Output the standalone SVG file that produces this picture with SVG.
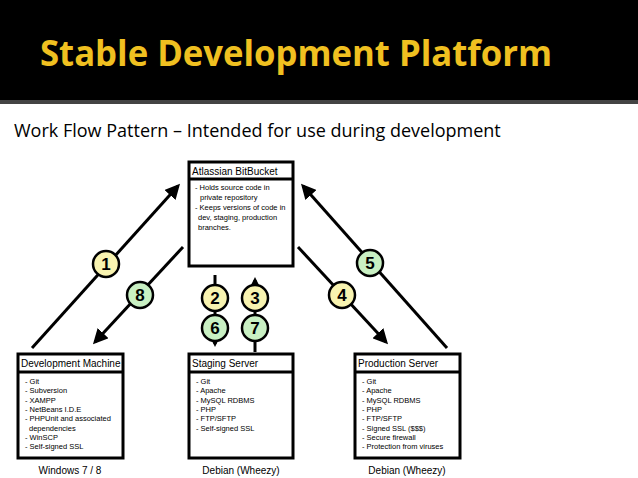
<svg xmlns="http://www.w3.org/2000/svg" width="638" height="478" viewBox="0 0 638 478">
<style>
.box{fill:#fff;stroke:#000;stroke-width:3}
.hd{font:10px "Liberation Sans",sans-serif;fill:#000}
.it{font:7.5px "Liberation Sans",sans-serif;fill:#000}
.os{font:10px "Liberation Sans",sans-serif;fill:#000;text-anchor:middle}
.ln{stroke:#000;stroke-width:3;fill:none}
.y{fill:#f8f3b0;stroke:#000;stroke-width:2.5}
.g{fill:#c9f0c3;stroke:#000;stroke-width:2.5}
.n{font:bold 17px "Liberation Sans",sans-serif;text-anchor:middle;fill:#000}
</style>
<defs><marker id="a" markerWidth="5" markerHeight="5" refX="4" refY="2.5" orient="auto" markerUnits="strokeWidth"><path d="M0,0L5,2.5L0,5z"/></marker></defs>
<rect width="638" height="478" fill="#fff"/>
<rect width="638" height="100" fill="#000"/>
<rect y="100" width="638" height="4" fill="#444"/>
<text x="296" y="66" text-anchor="middle" style="font:bold 35px 'Open Sans',sans-serif;fill:#f0c020" textLength="512" lengthAdjust="spacingAndGlyphs">Stable Development Platform</text>
<text x="14" y="137" style="font:18px 'Open Sans',sans-serif;fill:#000">Work Flow Pattern – Intended for use during development</text>
<g id="connectors">
<line class="ln" x1="32" y1="348" x2="178" y2="186" marker-end="url(#a)"/>
<line class="ln" x1="183" y1="247" x2="95" y2="342" marker-end="url(#a)"/>
<line class="ln" x1="215" y1="275" x2="215" y2="344" marker-end="url(#a)"/>
<line class="ln" x1="255" y1="352" x2="255" y2="280" marker-end="url(#a)"/>
<line class="ln" x1="298" y1="247" x2="386" y2="342" marker-end="url(#a)"/>
<line class="ln" x1="447" y1="348" x2="303" y2="186" marker-end="url(#a)"/>
<circle class="y" cx="106" cy="264" r="13"/><text class="n" x="106" y="270">1</text>
<circle class="g" cx="140" cy="295" r="13"/><text class="n" x="140" y="301">8</text>
<circle class="y" cx="215" cy="298" r="13"/><text class="n" x="215" y="304">2</text>
<circle class="g" cx="215" cy="328" r="13"/><text class="n" x="215" y="334">6</text>
<circle class="y" cx="255" cy="298" r="13"/><text class="n" x="255" y="304">3</text>
<circle class="g" cx="255" cy="328" r="13"/><text class="n" x="255" y="334">7</text>
<circle class="y" cx="342" cy="295" r="13"/><text class="n" x="342" y="301">4</text>
<circle class="g" cx="370" cy="263" r="13"/><text class="n" x="370" y="269">5</text>
</g>
<g id="bitbucket">
<rect class="box" x="189" y="162" width="104" height="104"/><line class="ln" x1="189" y1="179" x2="293" y2="179" stroke-width="2"/>
<text class="hd" x="192" y="175">Atlassian BitBucket</text>
<text class="it" x="195" y="190">- Holds source code in</text>
<text class="it" x="200" y="200">private repository</text>
<text class="it" x="195" y="210">- Keeps versions of code in</text>
<text class="it" x="198" y="220">dev, staging, production</text>
<text class="it" x="198" y="230">branches.</text>
</g>
<g id="dev">
<rect class="box" x="18" y="354" width="105" height="104"/><line class="ln" x1="18" y1="372" x2="123" y2="372" stroke-width="2"/>
<text class="hd" x="21" y="367">Development Machine</text>
<text class="it" x="25" y="384">- Git</text>
<text class="it" x="25" y="393.3">- Subversion</text>
<text class="it" x="25" y="402.6">- XAMPP</text>
<text class="it" x="25" y="411.9">- NetBeans I.D.E</text>
<text class="it" x="25" y="421.2">- PHPUnit and associated</text>
<text class="it" x="29" y="430.5">dependencies</text>
<text class="it" x="25" y="439.8">- WinSCP</text>
<text class="it" x="25" y="449.1">- Self-signed SSL</text>
<text class="os" x="70" y="474">Windows 7 / 8</text>
</g>
<g id="staging">
<rect class="box" x="189" y="354" width="104" height="104"/><line class="ln" x1="189" y1="372" x2="293" y2="372" stroke-width="2"/>
<text class="hd" x="192" y="367">Staging Server</text>
<text class="it" x="196" y="384">- Git</text>
<text class="it" x="196" y="393.3">- Apache</text>
<text class="it" x="196" y="402.6">- MySQL RDBMS</text>
<text class="it" x="196" y="411.9">- PHP</text>
<text class="it" x="196" y="421.2">- FTP/SFTP</text>
<text class="it" x="196" y="430.5">- Self-signed SSL</text>
<text class="os" x="241" y="474">Debian (Wheezy)</text>
</g>
<g id="production">
<rect class="box" x="355" y="354" width="105" height="104"/><line class="ln" x1="355" y1="372" x2="460" y2="372" stroke-width="2"/>
<text class="hd" x="358" y="367">Production Server</text>
<text class="it" x="362" y="384">- Git</text>
<text class="it" x="362" y="393.3">- Apache</text>
<text class="it" x="362" y="402.6">- MySQL RDBMS</text>
<text class="it" x="362" y="411.9">- PHP</text>
<text class="it" x="362" y="421.2">- FTP/SFTP</text>
<text class="it" x="362" y="430.5">- Signed SSL ($$$)</text>
<text class="it" x="362" y="439.8">- Secure firewall</text>
<text class="it" x="362" y="449.1">- Protection from viruses</text>
<text class="os" x="407" y="474">Debian (Wheezy)</text>
</g>
</svg>
